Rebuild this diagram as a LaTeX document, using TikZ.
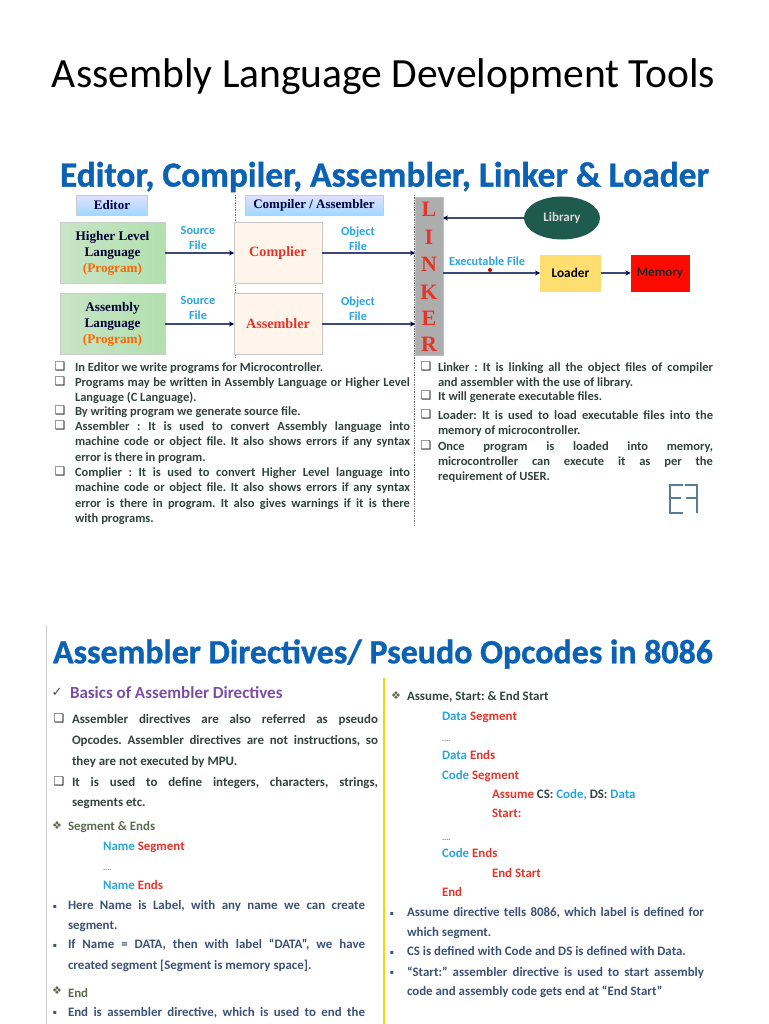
\documentclass[tikz,border=0pt]{standalone}
\usepackage{fontspec}
\usepackage{graphicx}
\usetikzlibrary{arrows.meta,calc,shapes.geometric}
\setmainfont{Carlito}
\newfontfamily\sym{DejaVu Sans}
\newfontfamily\tms{Liberation Serif}
\newfontfamily\heavy[FakeBold=1]{Carlito Bold}
\frenchspacing
\definecolor{headblue}{HTML}{0B62B4}
\definecolor{bodyink}{HTML}{34423C}
\definecolor{navyink}{HTML}{3D5275}
\definecolor{cyanink}{HTML}{2AA5DE}
\definecolor{redink}{HTML}{E5342A}
\definecolor{purpleink}{HTML}{7A4FA3}
\definecolor{olive}{HTML}{5D6B4E}
\definecolor{arrowc}{HTML}{3A4A78}
\definecolor{libgreen}{HTML}{1F5A4E}
\definecolor{logoc}{HTML}{5B7C99}
\newcount\tc
\tikzset{
  every node/.style={inner sep=0pt,outer sep=0pt},
  txt/.style={anchor=mid west,yshift=-1.6pt,text=bodyink,font=\fontsize{12.5}{13}\selectfont\bfseries},
  cbx/.style={anchor=mid,text=black!80,font=\sym\fontsize{12}{12}\selectfont},
  bul/.style={anchor=mid,text=navyink,font=\sym\fontsize{6}{8}\selectfont},
  dia/.style={anchor=mid,text=olive,font=\sym\fontsize{11}{12}\selectfont},
  sl/.style={anchor=mid west,yshift=-1.6pt,text=bodyink,font=\fontsize{12.9}{13}\selectfont\bfseries},
  dots/.style={anchor=mid west,text=black!50,font=\fontsize{8}{9}\selectfont\bfseries},
  lab/.style={align=center,text=cyanink,font=\fontsize{12.3}{15}\selectfont\bfseries},
  ed/.style={draw=black!20,top color=blue!12,bottom color=blue!40!cyan!38,text=black!75!blue,font=\tms\fontsize{13}{14}\selectfont\bfseries},
  greenbox/.style={draw=black!20,left color=green!35!olive!28,right color=green!45!olive!38,minimum width=105pt,minimum height=61pt,font=\tms\fontsize{13.2}{16}\selectfont\bfseries,text=black!80!blue},
  pale/.style={draw=black!22,fill=orange!8,minimum width=88pt,minimum height=61pt,text=redink,font=\tms\fontsize{14.2}{16}\selectfont\bfseries},
  conn/.style={draw=arrowc,line width=1.3pt,-{Stealth[length=5pt,width=5pt,color=black!70!blue]}},
  sep/.style={draw=black!55,densely dotted,line width=.7pt},
  lk/.style={text=redink,font=\tms\fontsize{22}{22}\selectfont\bfseries},
}
\newcommand{\TL}[4][txt]{\global\advance\tc by 1 \node[#1] (t\the\tc) at (#2,#3) {#4};}
\newcommand{\JL}[5][txt]{\global\advance\tc by 1 \node[#1] (t\the\tc) at (#2,#3) {\makebox[#4pt][s]{#5}};}
\newcommand{\stk}[1]{\raisebox{-2pt}{\begin{tabular}{@{}c@{}}#1\end{tabular}}}
\begin{document}
\begin{tikzpicture}[x=1pt,y=-1pt]
\useasboundingbox (0,0) rectangle (768,1024);
\fill[white] (0,0) rectangle (768,1024);
% page title
\node[anchor=center,text=black] (ptitle) at (383.5,76.5) {\resizebox{663pt}{!}{\fontsize{40}{44}\selectfont Assembly Language Development Tools}};
% upper slide
\node[anchor=center,text=headblue] (h1) at (384.5,177) {\resizebox{649pt}{!}{\heavy\fontsize{40}{44}\selectfont Editor, Compiler, Assembler, Linker \& Loader}};
\coordinate (d1a) at (235,195); \coordinate (d1b) at (235,358);
\coordinate (d2a) at (414,195); \coordinate (d2b) at (414,526);
\draw[sep] (d1a) -- (d1b);
\draw[sep] (d2a) -- (d2b);
\node[ed,minimum width=71pt,minimum height=20pt] (editor) at (112,205.5) {Editor};
\node[ed,minimum width=138pt,minimum height=20pt] (compasm) at (314,205.5) {Compiler / Assembler};
\node[greenbox] (hll) at (112.5,253) {\stk{Higher Level\\Language\\\textcolor{orange!80!red}{(Program)}}};
\node[greenbox] (asml) at (112.5,324) {\stk{Assembly\\Language\\\textcolor{orange!80!red}{(Program)}}};
\node[pale] (comp) at (278,253) {\raisebox{-1.5pt}{Complier}};
\node[pale] (asmb) at (278,324) {\raisebox{-1.5pt}{Assembler}};
\node[draw=black!25,fill=black!32,minimum width=28pt,minimum height=158pt,anchor=north west] (linker) at (415,197) {};
\node[lk] (l1) at (429,209) {L};
\node[lk] (l2) at (429,237) {I};
\node[lk] (l3) at (429,264) {N};
\node[lk] (l4) at (429,292) {K};
\node[lk] (l5) at (429,318) {E};
\node[lk] (l6) at (429,344) {R};
\node[ellipse,fill=libgreen,minimum width=76pt,minimum height=43pt,text=white!85!black,font=\fontsize{13}{14}\selectfont\bfseries] (lib) at (562,218) {Library};
\node[fill=yellow!60!orange!55,minimum width=61pt,minimum height=37pt,text=black,font=\fontsize{13.3}{14}\selectfont\bfseries] (loader) at (570.5,273) {Loader};
\node[fill=red!92!orange,minimum width=59pt,minimum height=37pt,text=black!85,font=\fontsize{13}{14}\selectfont\bfseries] (mem) at (660,273) {Memory};
\draw[conn] (hll) -- (comp);
\draw[conn] (asml) -- (asmb);
\draw[conn] (comp.east) -- (comp.east -| linker.west);
\draw[conn] (asmb.east) -- (asmb.east -| linker.west);
\draw[conn] (lib.west) -- (lib.west -| linker.east);
\draw[conn] (loader.west -| linker.east) -- (loader.west);
\draw[conn] (loader) -- (mem);
\node[lab] (s1) at (198,238) {Source\\File};
\node[lab] (s2) at (198,308.5) {Source\\File};
\node[lab] (o1) at (358,238.5) {Object\\File};
\node[lab] (o2) at (358,309) {Object\\File};
\node[lab] (ex) at (487,261) {Executable File};
\node[circle,fill=red!85!black,minimum size=4pt] (rdot) at (490,270) {};
% upper text, left
\TL[cbx]{60}{368}{❑}\TL{75}{368}{In Editor we write programs for Microcontroller.}
\TL[cbx]{60}{383}{❑}\JL{75}{383}{335}{Programs may be written in Assembly Language or Higher Level}
\TL{75}{398}{Language (C Language).}
\TL[cbx]{60}{412}{❑}\TL{75}{412}{By writing program we generate source file.}
\TL[cbx]{60}{427}{❑}\JL{75}{427}{335}{Assembler : It is used to convert Assembly language into}
\JL{75}{442}{335}{machine code or object file. It also shows errors if any syntax}
\TL{75}{458}{error is there in program.}
\TL[cbx]{60}{473}{❑}\JL{75}{473}{335}{Complier : It is used to convert Higher Level language into}
\JL{75}{488}{335}{machine code or object file. It also shows errors if any syntax}
\JL{75}{504}{335}{error is there in program. It also gives warnings if it is there}
\TL{75}{519}{with programs.}
% upper text, right
\TL[cbx]{426}{368}{❑}\JL{438}{368}{275}{Linker : It is linking all the object files of compiler}
\TL{438}{383}{and assembler with the use of library.}
\TL[cbx]{426}{397}{❑}\TL{438}{397}{It will generate executable files.}
\TL[cbx]{426}{416}{❑}\JL{438}{416}{275}{Loader: It is used to load executable files into the}
\TL{438}{431}{memory of microcontroller.}
\TL[cbx]{426}{447}{❑}\JL{438}{447}{275}{Once program is loaded into memory,}
\JL{438}{462}{275}{microcontroller can execute it as per the}
\TL{438}{477}{requirement of USER.}
% logo
\coordinate (ea1) at (670,485); \coordinate (ea2) at (683,485); \coordinate (ea3) at (670,513); \coordinate (ea4) at (683,513);
\coordinate (ea5) at (670,498); \coordinate (ea6) at (681,498); \coordinate (ea7) at (685,485); \coordinate (ea8) at (697,485); \coordinate (ea9) at (697,513);
\coordinate (ea10) at (686,498); \coordinate (ea11) at (697,498);
\draw[line width=2.2pt,draw=logoc] (ea2) -- (ea1) -- (ea3) -- (ea4) (ea5) -- (ea6) (ea7) -- (ea8) -- (ea9) (ea10) -- (ea11);
% lower slide
\coordinate (g1) at (46,625); \coordinate (g2) at (46,1024);
\draw[draw=black!18,line width=1pt] (g1) -- (g2);
\coordinate (y1) at (384,678); \coordinate (y2) at (384,1024);
\draw[draw=yellow!70!orange,line width=1.2pt] (y1) -- (y2);
\node[anchor=center,text=headblue] (h2) at (383,654) {\resizebox{660pt}{!}{\heavy\fontsize{40}{44}\selectfont Assembler Directives/ Pseudo Opcodes in 8086}};
\TL[anchor=mid,text=black!70,font=\sym\fontsize{13}{14}\selectfont]{57}{694}{✓}
\TL[anchor=mid west,yshift=-1.6pt,text=purpleink,font=\fontsize{17}{18}\selectfont\bfseries]{70}{695}{Basics of Assembler Directives}
\TL[cbx]{59}{720}{❑}\JL[sl]{72}{720}{306}{Assembler directives are also referred as pseudo}
\JL[sl]{72}{741}{306}{Opcodes. Assembler directives are not instructions, so}
\TL[sl]{72}{762}{they are not executed by MPU.}
\TL[cbx]{59}{783}{❑}\JL[sl]{72}{783}{306}{It is used to define integers, characters, strings,}
\TL[sl]{72}{803}{segments etc.}
\TL[dia]{57}{827}{❖}\TL[sl,text=olive]{68}{827}{Segment \& Ends}
\TL[sl]{103}{847}{\textcolor{cyanink}{Name} \textcolor{redink}{Segment}}
\TL[dots]{103}{868}{....}
\TL[sl]{103}{886}{\textcolor{cyanink}{Name} \textcolor{redink}{Ends}}
\TL[bul]{55}{906}{▪}\JL[sl,text=navyink]{68}{906}{297}{Here Name is Label, with any name we can create}
\TL[sl,text=navyink]{68}{926}{segment.}
\TL[bul]{55}{945}{▪}\JL[sl,text=navyink]{68}{945}{297}{If Name = DATA, then with label “DATA”, we have}
\TL[sl,text=navyink]{68}{965}{created segment [Segment is memory space].}
\TL[dia]{57}{992}{❖}\TL[sl,text=olive]{68}{993}{End}
\TL[bul]{55}{1012}{▪}\JL[sl,text=navyink]{68}{1012}{297}{End is assembler directive, which is used to end the}
% lower right
\TL[dia]{396}{697}{❖}\TL[sl,text=bodyink]{407}{697}{Assume, Start: \& End Start}
\TL[sl]{442}{717}{\textcolor{cyanink}{Data} \textcolor{redink}{Segment}}
\TL[dots]{442}{739}{....}
\TL[sl]{442}{756}{\textcolor{cyanink}{Data} \textcolor{redink}{Ends}}
\TL[sl]{442}{776}{\textcolor{cyanink}{Code} \textcolor{redink}{Segment}}
\TL[sl]{492}{795}{\textcolor{redink}{Assume} \textcolor{bodyink}{CS:} \textcolor{cyanink}{Code,} \textcolor{bodyink}{DS:} \textcolor{cyanink}{Data}}
\TL[sl,text=redink]{492}{814}{Start:}
\TL[dots]{442}{838}{....}
\TL[sl]{442}{854}{\textcolor{cyanink}{Code} \textcolor{redink}{Ends}}
\TL[sl,text=redink]{492}{874}{End Start}
\TL[sl,text=redink]{442}{893}{End}
\TL[bul]{392}{913}{▪}\JL[sl,text=navyink]{407}{913}{297}{Assume directive tells 8086, which label is defined for}
\TL[sl,text=navyink]{407}{933}{which segment.}
\TL[bul]{392}{952}{▪}\TL[sl,text=navyink]{407}{952}{CS is defined with Code and DS is defined with Data.}
\TL[bul]{392}{972}{▪}\JL[sl,text=navyink]{407}{972}{297}{“Start:” assembler directive is used to start assembly}
\TL[sl,text=navyink]{407}{991}{code and assembly code gets end at “End Start”}
\end{tikzpicture}
\end{document}
